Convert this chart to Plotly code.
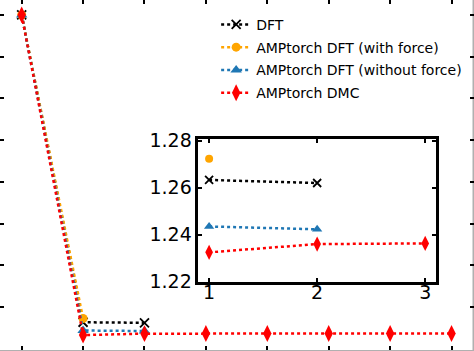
import plotly.graph_objects as go

# ---- data ----
dft_x = [0, 1, 2]
dft_y = [2.0, 1.2633, 1.2620]
force_x = [0, 1]
force_y = [2.0, 1.2723]
noforce_x = [0, 1, 2]
noforce_y = [2.0, 1.2435, 1.2423]
dmc_x = [0, 1, 2, 3, 4, 5, 6, 7]
dmc_y = [2.0, 1.2325, 1.2360, 1.2363, 1.2363, 1.2363, 1.2363, 1.2363]

names = ["DFT", "AMPtorch DFT (with force)", "AMPtorch DFT (without force)", "AMPtorch DMC"]
colors = ["black", "#ffa500", "#1f77b4", "#ff0000"]
symbols = ["x-thin-open", "circle", "triangle-up", "diamond-tall"]
msizes = [9, 9, 10, 12]
series = [(dft_x, dft_y), (force_x, force_y), (noforce_x, noforce_y), (dmc_x, dmc_y)]

inset_x_start = 1  # inset shows points from index 1 on

fig = go.Figure()
for i, (xs, ys) in enumerate(series):
    mk = dict(symbol=symbols[i], size=msizes[i], color=colors[i])
    if symbols[i] == "x-thin-open":
        mk["line"] = dict(width=1.8, color=colors[i])
    fig.add_trace(go.Scatter(
        x=xs, y=ys, mode="lines+markers", name=names[i],
        line=dict(color=colors[i], width=2.5, dash="3px,3px"),
        marker=mk, legendgroup=str(i), xaxis="x", yaxis="y"))
for i, (xs, ys) in enumerate(series):
    mk = dict(symbol=symbols[i], size=msizes[i] - 1, color=colors[i])
    if symbols[i] == "x-thin-open":
        mk["line"] = dict(width=1.8, color=colors[i])
    fig.add_trace(go.Scatter(
        x=xs[inset_x_start:4], y=ys[inset_x_start:4], mode="lines+markers",
        showlegend=False,
        line=dict(color=colors[i], width=2.5, dash="3px,3px"),
        marker=mk, xaxis="x2", yaxis="y2"))

W, H = 474, 351
fig.update_layout(
    width=W, height=H,
    margin=dict(l=0, r=0, t=0, b=0, pad=0, autoexpand=False),
    paper_bgcolor="white", plot_bgcolor="white",
    font=dict(family="DejaVu Sans", color="black"),
    xaxis=dict(domain=[0, 1], range=[-0.353, 7.366], tickmode="linear", tick0=0, dtick=1,
               showticklabels=False, ticks="inside", ticklen=4, tickwidth=1.5, tickcolor="black",
               showgrid=False, zeroline=False, showline=True, linecolor="#b0b0b0", linewidth=3,
               mirror="ticks", automargin=False),
    yaxis=dict(domain=[1.5 / H, 1], range=[1.1980, 2.0359], tickmode="linear", tick0=1.2, dtick=0.1,
               showticklabels=False, ticks="inside", ticklen=4, tickwidth=1.5, tickcolor="black",
               showgrid=False, zeroline=False, showline=False, mirror="ticks", automargin=False),
    xaxis2=dict(domain=[198.3 / W, 436 / W], anchor="y2", range=[0.9, 3.1],
                tickvals=[1, 2, 3], ticks="inside", ticklen=4, tickwidth=1.5, tickcolor="black",
                showgrid=False, zeroline=False, showline=True, linecolor="black", linewidth=2.5,
                mirror="ticks", tickfont=dict(size=19, family="DejaVu Sans"), automargin=False,
                ticklabelstandoff=-8),
    yaxis2=dict(domain=[1 - 281.7 / H, 1 - 139.3 / H], anchor="x2", range=[1.22, 1.2806],
                tickvals=[1.22, 1.24, 1.26, 1.28], tickformat=".2f", ticks="inside", ticklen=4,
                tickwidth=1.5, tickcolor="black",
                showgrid=False, zeroline=False, showline=True, linecolor="black", linewidth=2.5,
                mirror="ticks", tickfont=dict(size=19, family="DejaVu Sans"), automargin=False),
    legend=dict(x=0.456, y=0.975, xanchor="left", yanchor="top", bgcolor="rgba(255,255,255,0)",
                font=dict(size=14, family="DejaVu Sans"), traceorder="grouped",
                tracegroupgap=1.6, itemwidth=30),
    shapes=[dict(type="line", xref="paper", yref="paper", x0=1, x1=1, y0=0, y1=1,
                 line=dict(color="#b0b0b0", width=3), layer="below")],
    showlegend=True,
)
fig.write_html("out.html")
